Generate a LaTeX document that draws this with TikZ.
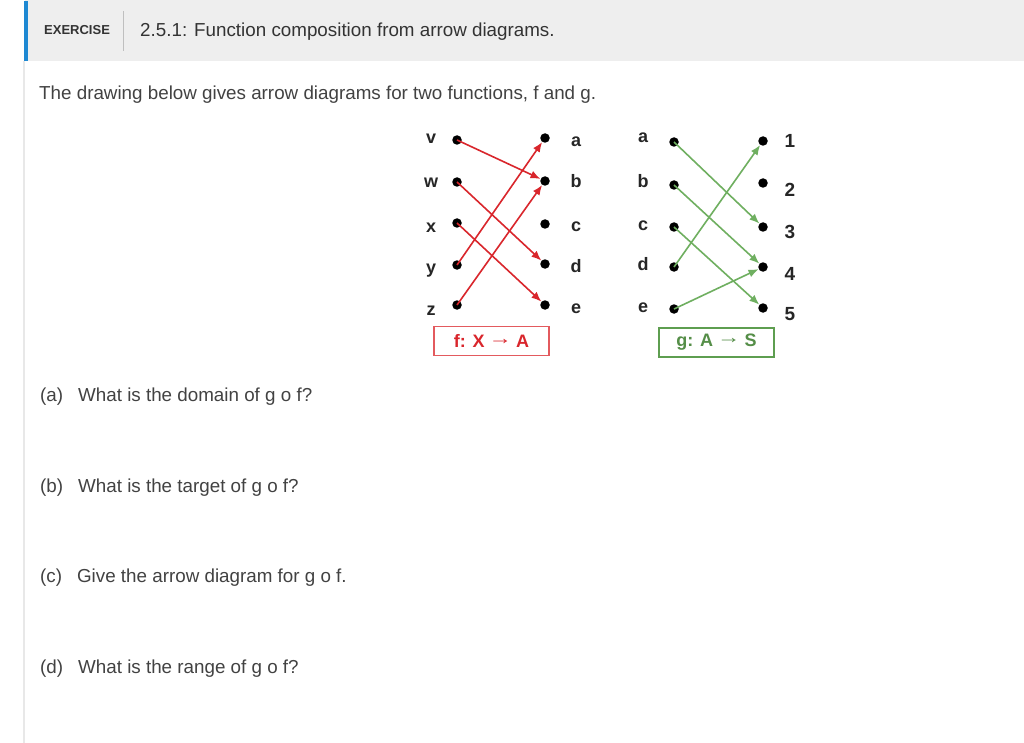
\documentclass[tikz,border=0pt]{standalone}
\usepackage{fontspec}
\setmainfont{Liberation Sans}
\usetikzlibrary{arrows.meta}
\usepackage{xcolor}

\definecolor{fred}{HTML}{D9262C}
\definecolor{fredbox}{HTML}{E35A5E}
\definecolor{fgreen}{HTML}{6FAF60}
\definecolor{fgreenbox}{HTML}{5E9E50}
\definecolor{txtgray}{HTML}{424242}
\definecolor{bandgray}{HTML}{EEEEEE}
\definecolor{barblue}{HTML}{1E88D2}

\newcommand{\arr}{\hspace{4pt}\raisebox{3pt}{\scalebox{1.3}[1]{→}}\hspace{4pt}}

\begin{document}
\begin{tikzpicture}[x=1pt,y=-1pt]
    \tikzset{dot/.style = {shape=circle, fill=black, inner sep=0pt, minimum size=9.5pt}}
    \tikzset{lbl/.style = {anchor=base, text=black!85, font=\bfseries\fontsize{18}{18}\selectfont}}
    \tikzset{num/.style = {anchor=base, text=black!85, font=\bfseries\fontsize{19}{19}\selectfont}}
    \tikzset{fedge/.style = {draw=fred, line width=1.6pt, -{Latex[length=10pt,width=8pt]}}}
    \tikzset{gedge/.style = {draw=fgreen, line width=1.6pt, -{Latex[length=10pt,width=8pt]}}}
    \tikzset{body/.style = {anchor=base west, inner sep=0pt, text=txtgray, font=\fontsize{18.8}{18.8}\selectfont}}
    \tikzset{fnbox/.style = {line width=1.2pt, font=\bfseries\fontsize{18}{18}\selectfont,
          minimum width=115pt, minimum height=29pt, inner sep=0pt}}

    % page and header
    \useasboundingbox (0,0) rectangle (1024,743);
    \fill[white] (0,0) rectangle (1024,743);
    \fill[bandgray] (25,0) rectangle (1024,61);
    \fill[barblue] (24,1) rectangle (28,61);
    \fill[black!9] (23,61) rectangle (25,743);
    \draw[black!25, line width=1.5pt] (123.5,11) -- (123.5,51);
    \node[anchor=base west, inner sep=0pt, text=black!80, font=\bfseries\fontsize{13}{13}\selectfont] (ex) at (44,35) {EXERCISE};
    \node[body, text=black!80] (title) at (140,37) {2.5.1: Function composition from arrow diagrams.};
    \node[body] (intro) at (39,100) {The drawing below gives arrow diagrams for two functions, f and g.};

    % f: X -> A
    \node[dot] (v) at (457,140) {};
    \node[dot] (w) at (457,182) {};
    \node[dot] (x) at (457,223) {};
    \node[dot] (y) at (457,265) {};
    \node[dot] (z) at (457,305) {};
    \node[dot] (fa) at (545,138) {};
    \node[dot] (fb) at (545,181) {};
    \node[dot] (fc) at (545,224) {};
    \node[dot] (fd) at (545,264) {};
    \node[dot] (fe) at (545,305) {};
    \node[lbl] at (431,144) {v};
    \node[lbl] at (431,188) {w};
    \node[lbl] at (431,233) {x};
    \node[lbl] at (431,273) {y};
    \node[lbl] at (431,315) {z};
    \node[lbl] at (576,147) {a};
    \node[lbl] at (576,188) {b};
    \node[lbl] at (576,232) {c};
    \node[lbl] at (576,272) {d};
    \node[lbl] at (576,313) {e};

    \draw [fedge] (v.center) -- (fb);
    \draw [fedge] (w.center) -- (fd);
    \draw [fedge] (x.center) -- (fe);
    \draw [fedge] (y.center) -- (fa);
    \draw [fedge] (z.center) -- (fb);

    \node[fnbox, draw=fredbox, text=fred] (fbox) at (491.5,341) {f: X\arr A};

    % g: A -> S
    \node[dot] (ga) at (674,142) {};
    \node[dot] (gb) at (674,185) {};
    \node[dot] (gc) at (674,227) {};
    \node[dot] (gd) at (674,267) {};
    \node[dot] (ge) at (674,309) {};
    \node[dot] (g1) at (763,141) {};
    \node[dot] (g2) at (763,183) {};
    \node[dot] (g3) at (763,227) {};
    \node[dot] (g4) at (763,267) {};
    \node[dot] (g5) at (763,308) {};
    \node[lbl] at (643,143) {a};
    \node[lbl] at (643,188) {b};
    \node[lbl] at (643,230) {c};
    \node[lbl] at (643,270) {d};
    \node[lbl] at (643,312) {e};
    \node[num] at (790,148) {1};
    \node[num] at (790,197) {2};
    \node[num] at (790,238) {3};
    \node[num] at (790,280) {4};
    \node[num] at (790,320) {5};

    \draw [gedge] (ga.center) -- (g3);
    \draw [gedge] (gb.center) -- (g4);
    \draw [gedge] (gc.center) -- (g5);
    \draw [gedge] (gd.center) -- (g1);
    \draw [gedge] (ge.center) -- (g4);

    \node[fnbox, draw=fgreenbox, text=fgreenbox!90!black] (gbox) at (716.5,342.5) {g: A\arr S};

    % questions
    \node[body] (qa) at (40,401) {(a)\hspace{15pt}What is the domain of g o f?};
    \node[body] (qb) at (40,492) {(b)\hspace{15pt}What is the target of g o f?};
    \node[body] (qc) at (40,582) {(c)\hspace{15pt}Give the arrow diagram for g o f.};
    \node[body] (qd) at (40,673) {(d)\hspace{15pt}What is the range of g o f?};
\end{tikzpicture}
\end{document}
